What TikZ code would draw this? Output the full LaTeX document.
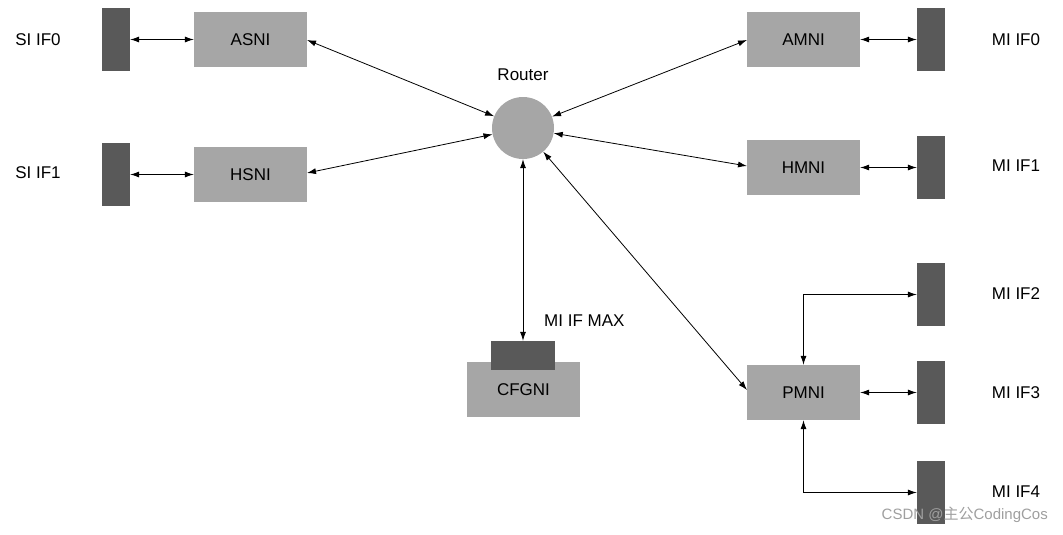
\documentclass[tikz,border=0pt]{standalone}
\usepackage{fontspec}
\setmainfont{Liberation Sans}
\newfontfamily\cjk{Noto Sans CJK SC}
\usetikzlibrary{arrows.meta}
\definecolor{boxg}{HTML}{A6A6A6}
\definecolor{barg}{HTML}{595959}
\begin{document}
\begin{tikzpicture}[x=1pt,y=-1pt,
  box/.style={fill=boxg,draw=none,minimum width=113pt,minimum height=55pt,inner sep=0pt,font=\fontsize{17}{20}\selectfont},
  bar/.style={fill=barg,draw=none,minimum width=28pt,minimum height=63pt,inner sep=0pt},
  lbl/.style={font=\fontsize{17}{20}\selectfont,inner sep=0pt},
  arr/.style={{Latex[length=9pt,width=6pt]}-{Latex[length=9pt,width=6pt]},line width=0.8pt}]
\useasboundingbox (0,0) rectangle (1063,535);
% left
\node[bar] (b0) at (116,39.5) {};
\node[box] (asni) at (250.5,39.5) {ASNI};
\node[lbl] (t0) at (38,40) {SI IF0};
\node[bar] (b1) at (116,174.5) {};
\node[box] (hsni) at (250.5,174.5) {HSNI};
\node[lbl] (t1) at (38,173) {SI IF1};
% router
\node[circle,fill=boxg,minimum size=62pt,inner sep=0pt] (r) at (523,128) {};
\node[lbl] (rl) at (523,75) {Router};
% right
\node[box] (amni) at (803.5,39.5) {AMNI};
\node[bar] (b2) at (931,39.5) {};
\node[lbl] (t2) at (1016,40) {MI IF0};
\node[box] (hmni) at (803.5,167.5) {HMNI};
\node[bar] (b3) at (931,167.5) {};
\node[lbl] (t3) at (1016,166) {MI IF1};
\node[bar] (b4) at (931,294.5) {};
\node[lbl] (t4) at (1016,294) {MI IF2};
\node[box] (pmni) at (803.5,392.5) {PMNI};
\node[bar] (b5) at (931,392.5) {};
\node[lbl] (t5) at (1016,393) {MI IF3};
\node[bar] (b6) at (931,492.5) {};
\node[lbl] (t6) at (1016,492) {MI IF4};
% cfg
\node[box] (cfg) at (523.5,389.5) {\raisebox{-3pt}{CFGNI}};
\node[fill=barg,minimum width=64pt,minimum height=29pt,inner sep=0pt] (cb) at (523,355.5) {};
\node[lbl,anchor=west] (tm) at (544,321) {MI IF MAX};
\node[font=\fontsize{15}{18}\selectfont,text=gray!75,anchor=east,inner sep=0pt] (wm) at (1048,515) {CSDN @{\cjk 主公}CodingCos};
% arrows
\draw[arr] (b0.east) -- (asni.west);
\draw[arr] (b1.east) -- (hsni.west);
\draw[arr] (307,40) -- (r);
\draw[arr] (307,173) -- (r);
\draw[arr] (r) -- (747,40);
\draw[arr] (r) -- (747,166);
\draw[arr] (r) -- (cb.north);
\draw[arr] (r) -- (747,390);
\draw[arr] (amni.east) -- (b2.west);
\draw[arr] (hmni.east) -- (b3.west);
\draw[arr] (pmni.east) -- (b5.west);
\draw[arr] (pmni.north) |- (b4.west);
\draw[arr] (pmni.south) |- (b6.west);
\end{tikzpicture}
\end{document}
